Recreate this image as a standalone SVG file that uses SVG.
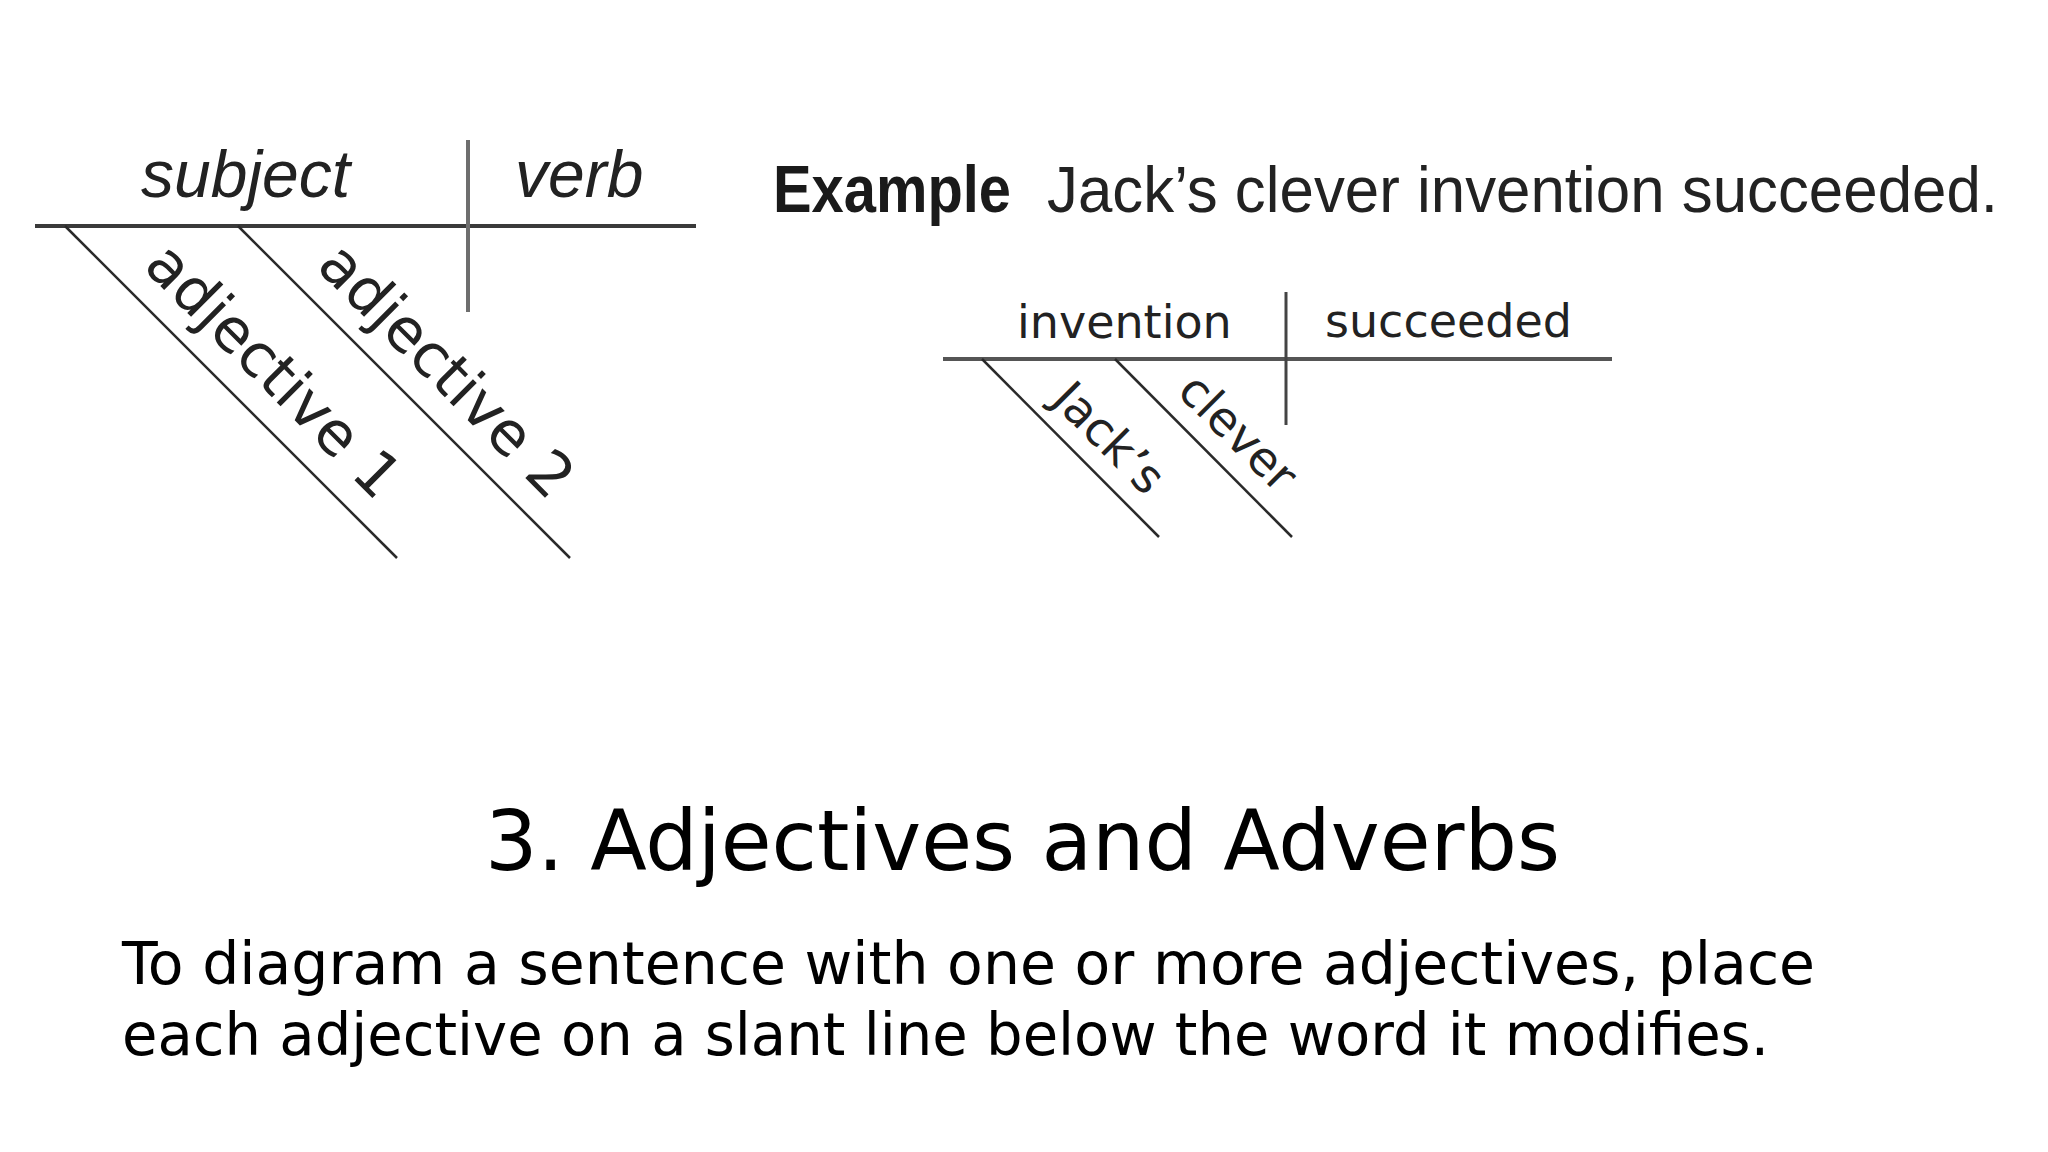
<svg xmlns="http://www.w3.org/2000/svg" width="2048" height="1152" viewBox="0 0 2048 1152">
<style>
.base{stroke:#3a3a3a;stroke-width:4;fill:none}
.div{stroke:#6e6e6e;stroke-width:4;fill:none}
.slant{stroke:#2a2a2a;stroke-width:2.5;fill:none}
.ital{font-family:"Liberation Sans",Arial,sans-serif;font-style:italic;font-size:66px;fill:#222}
.adj{font-family:"DejaVu Sans",sans-serif;font-size:60px;fill:#222}
.ex{font-family:"DejaVu Sans",sans-serif;font-size:46px;fill:#222}
.exs{font-family:"DejaVu Sans",sans-serif;font-size:47px;fill:#222}
.sent{font-family:"Liberation Sans",Arial,sans-serif;font-size:64px;fill:#222}
.bold{font-family:"Liberation Sans",Arial,sans-serif;font-weight:bold;font-size:66px;fill:#1a1a1a}
.title{font-family:"DejaVu Sans",sans-serif;font-size:83px;fill:#000}
.body{font-family:"DejaVu Sans",sans-serif;font-size:58px;fill:#000}
</style>
<rect width="2048" height="1152" fill="#ffffff"/>
<g id="connectors">
  <line class="base" x1="35" y1="226" x2="696" y2="226"/>
  <line class="div" x1="468" y1="140" x2="468" y2="312"/>
  <line class="slant" x1="65" y1="226" x2="397" y2="558"/>
  <line class="slant" x1="238" y1="226" x2="570" y2="558"/>
  <line class="base" x1="943" y1="359" x2="1612" y2="359" style="stroke:#555"/>
  <line class="div" x1="1286" y1="292" x2="1286" y2="425" style="stroke:#444;stroke-width:3"/>
  <line class="slant" x1="982" y1="359" x2="1159" y2="537"/>
  <line class="slant" x1="1115" y1="359" x2="1292" y2="537"/>
</g>
<g id="subject"><text class="ital" x="141" y="197">subject</text></g>
<g id="verb"><text class="ital" x="515" y="197">verb</text></g>
<g id="adjective1"><text class="adj" transform="translate(65,226) rotate(45)" x="84" y="-25">adjective 1</text></g>
<g id="adjective2"><text class="adj" transform="translate(238,226) rotate(45)" x="84" y="-25">adjective 2</text></g>
<g id="example">
  <text class="bold" x="773" y="212" textLength="238" lengthAdjust="spacingAndGlyphs">Example</text>
  <text class="sent" x="1047" y="212" textLength="951" lengthAdjust="spacingAndGlyphs">Jack’s clever invention succeeded.</text>
</g>
<g id="invention"><text class="ex" x="1017" y="338">invention</text></g>
<g id="succeeded"><text class="ex" x="1325" y="337">succeeded</text></g>
<g id="jacks"><text class="exs" transform="translate(982,359) rotate(45)" x="78" y="-18">Jack’s</text></g>
<g id="clever"><text class="exs" transform="translate(1115,359) rotate(45)" x="67" y="-19">clever</text></g>
<g id="title"><text class="title" x="485" y="870" textLength="1075" lengthAdjust="spacingAndGlyphs">3. Adjectives and Adverbs</text></g>
<g id="body">
  <text class="body" x="122" y="984" textLength="1693" lengthAdjust="spacingAndGlyphs">To diagram a sentence with one or more adjectives, place</text>
  <text class="body" x="122" y="1055" textLength="1647" lengthAdjust="spacingAndGlyphs">each adjective on a slant line below the word it modifies.</text>
</g>
</svg>
